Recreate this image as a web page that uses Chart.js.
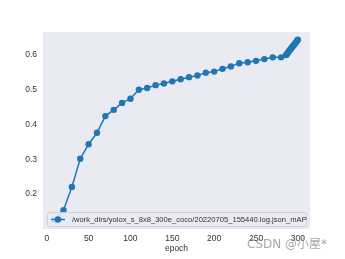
<!DOCTYPE html>
<html>
<head>
<meta charset="utf-8">
<script src="https://cdn.jsdelivr.net/npm/chart.js@4"></script>
<style>
html,body{margin:0;padding:0;background:#fff;}
#wrap{width:345px;height:259px;}
</style>
</head>
<body>
<div id="wrap"><canvas id="chart" width="345" height="259"></canvas></div>
<script>
const epochs=[10,20,30,40,50,60,70,80,90,100,110,120,130,140,150,160,170,180,190,200,210,220,230,240,250,260,270,280,286,287,288,289,290,291,292,293,294,295,296,297,298,299,300]
const mAP=[0.125,0.153,0.220,0.301,0.343,0.376,0.424,0.442,0.462,0.474,0.500,0.505,0.513,0.518,0.524,0.530,0.536,0.541,0.549,0.552,0.560,0.567,0.576,0.579,0.583,0.588,0.593,0.593,0.600,0.603,0.606,0.610,0.613,0.616,0.619,0.622,0.625,0.628,0.631,0.634,0.637,0.641,0.644]
const xTicks=[0,50,100,150,200,250,300]
const yTicks=[0.2,0.3,0.4,0.5,0.6]
const seriesLabel="/work_dirs/yolox_s_8x8_300e_coco/20220705_155440.log.json_mAP"

const BLUE="#1f77b4"

const bgPlugin={
  id:"bg",
  beforeDraw(c){
    const a=c.chartArea,ctx=c.ctx
    ctx.save()
    ctx.fillStyle="#eaeaf2"
    ctx.fillRect(a.left,a.top,a.right-a.left,a.bottom-a.top)
    ctx.restore()
  }
}

const legendPlugin={
  id:"innerLegend",
  afterDatasetsDraw(c){
    const a=c.chartArea,ctx=c.ctx
    const x=a.left+4,y=a.bottom-17,w=a.right-a.left-8,h=14
    ctx.save()
    ctx.fillStyle="rgba(234,234,242,0.85)"
    ctx.strokeStyle="#cfcfd6"
    ctx.lineWidth=1
    ctx.beginPath()
    ctx.roundRect(x+0.5,y+0.5,w,h,2)
    ctx.fill()
    ctx.stroke()
    ctx.strokeStyle=BLUE
    ctx.lineWidth=1.5
    ctx.beginPath()
    ctx.moveTo(x+4,y+h/2+0.5)
    ctx.lineTo(x+18,y+h/2+0.5)
    ctx.stroke()
    ctx.fillStyle=BLUE
    ctx.beginPath()
    ctx.arc(x+11,y+h/2+0.5,3.2,0,Math.PI*2)
    ctx.fill()
    ctx.fillStyle="#333"
    ctx.font="7.6px 'Liberation Sans', Arial, sans-serif"
    ctx.textBaseline="middle"
    ctx.fillText(seriesLabel,x+25,y+h/2+1)
    ctx.restore()
  }
}

const markPlugin={
  id:"mark",
  afterDraw(c){
    const ctx=c.ctx
    ctx.save()
    ctx.fillStyle="rgba(150,150,150,0.85)"
    ctx.font="12px 'DejaVu Sans', 'Noto Sans CJK SC', sans-serif"
    ctx.textBaseline="middle"
    ctx.fillText("CSDN @小屋*",247,245)
    ctx.restore()
  }
}

new Chart(document.getElementById("chart"),{
  type:"line",
  data:{
    labels:epochs,
    datasets:[{
      label:seriesLabel,
      data:epochs.map((e,i)=>({x:e,y:mAP[i]})),
      borderColor:BLUE,
      backgroundColor:BLUE,
      borderWidth:1.5,
      pointRadius:3.2,
      pointBorderWidth:0,
      pointHoverRadius:3.2,
      tension:0
    }]
  },
  options:{
    responsive:false,
    animation:false,
    layout:{padding:{top:32,right:35,left:0,bottom:0}},
    plugins:{legend:{display:false},tooltip:{enabled:false}},
    scales:{
      x:{
        type:"linear",
        min:-4.5,max:314.5,
        afterBuildTicks(s){s.ticks=xTicks.map(v=>({value:v}))},
        afterFit(s){s.height=30},
        grid:{display:false,drawTicks:false},
        border:{display:false},
        ticks:{color:"#333",font:{size:8.5,family:"'Liberation Sans', Arial, sans-serif"},padding:5,maxRotation:0},
        title:{display:true,text:"epoch",color:"#333",font:{size:8.5,family:"'Liberation Sans', Arial, sans-serif"},padding:{top:0,bottom:5}}
      },
      y:{
        min:0.099,max:0.666,
        afterBuildTicks(s){s.ticks=yTicks.map(v=>({value:v}))},
        afterFit(s){s.width=43},
        grid:{display:false,drawTicks:false},
        border:{display:false},
        ticks:{color:"#333",font:{size:8.5,family:"'Liberation Sans', Arial, sans-serif"},padding:6,callback:v=>v.toFixed(1)}
      }
    }
  },
  plugins:[bgPlugin,legendPlugin,markPlugin]
})
</script>
</body>
</html>
